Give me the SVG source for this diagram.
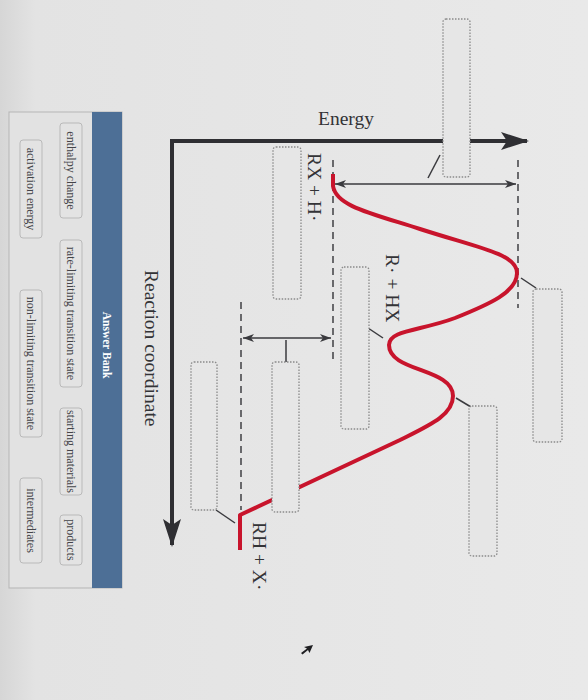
<svg xmlns="http://www.w3.org/2000/svg" width="588" height="700" viewBox="0 0 588 700">
<defs>
<linearGradient id="bg" x1="0" y1="0" x2="1" y2="0">
<stop offset="0" stop-color="#d6d6d6"/>
<stop offset="0.06" stop-color="#e3e3e3"/>
<stop offset="1" stop-color="#e9e9e9"/>
</linearGradient>
<marker id="axisHead" markerUnits="userSpaceOnUse" markerWidth="30" markerHeight="22" refX="26" refY="11" orient="auto-start-reverse">
<path d="M0,2 L28,11 L0,20 L6,11 z" fill="#2f2f33"/>
</marker>
<marker id="dimHead" markerUnits="userSpaceOnUse" markerWidth="12" markerHeight="10" refX="11" refY="5" orient="auto-start-reverse">
<path d="M0,1 L11,5 L0,9 L3,5 z" fill="#3a3a3e"/>
</marker>
<style>
.ax{stroke:#2f2f33;stroke-width:4;fill:none}
.dash{stroke:#4a4a4e;stroke-width:1.6;stroke-dasharray:7 5;fill:none}
.dim{stroke:#3a3a3e;stroke-width:1.5;fill:none}
.lead{stroke:#3a3a3e;stroke-width:1.5;fill:none}
.curve{stroke:#c8142c;stroke-width:4;fill:none;stroke-linejoin:round}
.box{fill:#e6e6e6;stroke:#8a8a8a;stroke-width:1.3;stroke-dasharray:1.5 1.5}
.lbl{font-family:"Liberation Serif","Times New Roman",serif;font-size:19.5px;fill:#333336}
.chip{fill:#e3e3e3;stroke:#b9b9b9;stroke-width:1}
.ctxt{font-family:"Liberation Serif","Times New Roman",serif;font-size:12px;fill:#444448;text-anchor:middle}
</style>
</defs>
<rect x="0" y="0" width="588" height="700" fill="url(#bg)"/>

<g id="answer-bank">
<rect x="9" y="112" width="113" height="476" fill="#e2e2e2" stroke="#b5b5b5" stroke-width="1"/>
<rect x="92" y="112" width="30" height="476" fill="#4d6f96"/>
<text transform="translate(103,345) rotate(90)" font-family="Liberation Serif, Times New Roman, serif" font-size="11.5" font-weight="bold" fill="#ffffff" text-anchor="middle">Answer Bank</text>
</g>
<g id="chip-enthalpy-change"><rect class="chip" x="60" y="123" width="22" height="95" rx="3"/><text class="ctxt" transform="translate(67,170.5) rotate(90)">enthalpy change</text></g>
<g id="chip-rate-limiting"><rect class="chip" x="60" y="240" width="22" height="147" rx="3"/><text class="ctxt" transform="translate(67,313.5) rotate(90)">rate-limiting transition state</text></g>
<g id="chip-starting-materials"><rect class="chip" x="60" y="408" width="22" height="87" rx="3"/><text class="ctxt" transform="translate(67,451.5) rotate(90)">starting materials</text></g>
<g id="chip-products"><rect class="chip" x="60" y="515" width="22" height="50" rx="3"/><text class="ctxt" transform="translate(67,540) rotate(90)">products</text></g>
<g id="chip-activation-energy"><rect class="chip" x="20" y="140" width="22" height="98" rx="3"/><text class="ctxt" transform="translate(27,189) rotate(90)">activation energy</text></g>
<g id="chip-non-limiting"><rect class="chip" x="20" y="290" width="22" height="147" rx="3"/><text class="ctxt" transform="translate(27,363.5) rotate(90)">non-limiting transition state</text></g>
<g id="chip-intermediates"><rect class="chip" x="20" y="478" width="22" height="85" rx="3"/><text class="ctxt" transform="translate(27,520.5) rotate(90)">intermediates</text></g>

<g id="axes">
<path class="ax" d="M527,141 L172,141 L172,545" marker-start="url(#axisHead)" marker-end="url(#axisHead)"/>
<text class="lbl" x="318" y="125">Energy</text>
<text class="lbl" transform="translate(144.5,270) rotate(90)">Reaction coordinate</text>
</g>

<g id="connectors">
<line class="dash" x1="333" y1="160" x2="333" y2="364"/>
<line class="dash" x1="518" y1="160" x2="518" y2="308"/>
<line class="dash" x1="241" y1="302" x2="241" y2="510"/>
<line class="dim" x1="335" y1="184" x2="516" y2="184" marker-start="url(#dimHead)" marker-end="url(#dimHead)"/>
<line class="dim" x1="243" y1="338" x2="331" y2="338" marker-start="url(#dimHead)" marker-end="url(#dimHead)"/>
<path class="curve" d="M333,174 L333,186 C336,206 370,213 420,229 C482,249 517,254 517,273 C517,292 490,304 455,318 C420,331 389,330 389,345 C389,372 453,368 453,396 C453,415 430,425 400,440 L240,515 L240,550"/>
<line class="lead" x1="440" y1="155" x2="428" y2="178"/>
<line class="lead" x1="521" y1="278" x2="536" y2="288"/>
<line class="lead" x1="456" y1="398" x2="471" y2="407"/>
<line class="lead" x1="368" y1="328" x2="383" y2="338"/>
<line class="lead" x1="286" y1="340" x2="286" y2="362"/>
<line class="lead" x1="216" y1="510" x2="235" y2="523"/>
</g>

<g id="box-top"><rect class="box" x="443" y="19" width="27" height="158" rx="3"/></g>
<g id="box-rx"><rect class="box" x="273" y="147" width="28" height="152" rx="3"/></g>
<g id="box-intermediate"><rect class="box" x="341" y="267" width="28" height="162" rx="3"/></g>
<g id="box-ts1"><rect class="box" x="533" y="289" width="29" height="153" rx="3"/></g>
<g id="box-ts2"><rect class="box" x="469" y="406" width="28" height="150" rx="3"/></g>
<g id="box-dh"><rect class="box" x="272" y="362" width="27" height="150" rx="3"/></g>
<g id="box-rh"><rect class="box" x="191" y="362" width="26" height="148" rx="3"/></g>

<g id="label-rx"><text class="lbl" transform="translate(308,153) rotate(90)">RX + H·</text></g>
<g id="label-r-hx"><text class="lbl" transform="translate(386,254) rotate(90)">R· + HX</text></g>
<g id="label-rh"><text class="lbl" transform="translate(253,522) rotate(90)">RH + X·</text></g>

<polygon points="313,645 304,647 307,648.5 301,653 302.5,654.5 308,650 309.5,653" fill="#1f1f22"/>
</svg>
